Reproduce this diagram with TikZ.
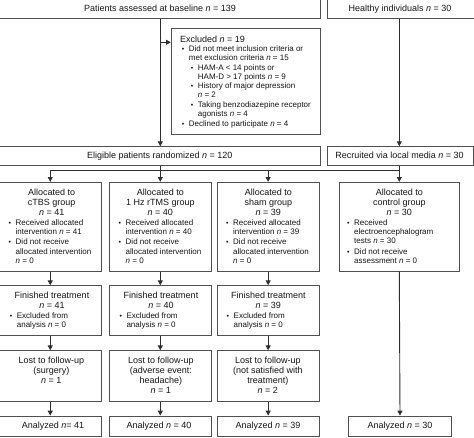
\documentclass[tikz,border=0pt]{standalone}
\usepackage{fontspec}
\setmainfont{Liberation Sans}
\usetikzlibrary{arrows.meta}
\definecolor{boxc}{HTML}{505050}
\definecolor{linec}{HTML}{2E2E2E}
\definecolor{txtc}{HTML}{141414}
\newcommand{\nn}{\textit{n}}
\newcommand{\bulg}{\makebox[7pt][l]{\fontsize{7}{7}\selectfont\textbullet}}
\newcommand{\bitem}[2][0pt]{\par\leftskip=#1\relax\hangindent=7pt\hangafter=1\noindent\bulg#2\par}
\newcommand{\blk}[1]{\vtop{\hsize=160pt\parindent=0pt\parskip=0pt\leftskip=0pt\rightskip=0pt plus 1fil\parfillskip=0pt plus 1fil\relax #1\par}}
\newcommand{\cblk}[1]{\vtop{\hsize=140pt\centering #1\par}}
\begin{document}
\begin{tikzpicture}[x=1pt,y=-1pt,
  box/.style={draw=boxc, line width=1pt, inner sep=0pt},
  txt/.style={inner sep=0pt, text=txtc},
  big/.style={font=\fontsize{9}{9.7}\selectfont},
  lbig/.style={font=\fontsize{9}{10}\selectfont},
  small/.style={font=\fontsize{8}{9.4}\selectfont},
  ln/.style={draw=linec, line width=0.9pt},
  arr/.style={draw=linec, line width=0.9pt, -{Triangle[length=4.8pt,width=5pt]}}]
\useasboundingbox (0,0) rectangle (474,437);
\clip (0,0) rectangle (474,437);
% boxes
\node[box, minimum width=322.5pt, minimum height=20.3pt] (top) at (159.25,8.15) {};
\node[box, minimum width=148.5pt, minimum height=20.3pt] (heal) at (401.75,8.15) {};
\node[box, minimum width=149.4pt, minimum height=105.6pt] (excl) at (246,81.5) {};
\node[box, minimum width=322.5pt, minimum height=18.3pt] (elig) at (159.25,155.85) {};
\node[box, minimum width=146.3pt, minimum height=18.3pt] (recr) at (400.15,155.85) {};
\node[box, minimum width=102.5pt, minimum height=89.4pt] (g1) at (50.25,227) {};
\node[box, minimum width=102pt, minimum height=89.4pt] (g2) at (160.3,227) {};
\node[box, minimum width=102.3pt, minimum height=89.4pt] (g3) at (268.15,227) {};
\node[box, minimum width=120pt, minimum height=88.7pt] (g4) at (399.3,226.65) {};
\node[box, minimum width=102.5pt, minimum height=49.3pt] (f1) at (50.25,310.35) {};
\node[box, minimum width=102pt, minimum height=49.3pt] (f2) at (160.3,310.35) {};
\node[box, minimum width=102.3pt, minimum height=49.3pt] (f3) at (268.15,310.35) {};
\node[box, minimum width=102.5pt, minimum height=50.3pt] (l1) at (50.25,375.85) {};
\node[box, minimum width=102pt, minimum height=50.3pt] (l2) at (160.3,375.85) {};
\node[box, minimum width=102.3pt, minimum height=50.3pt] (l3) at (268.15,375.85) {};
\node[box, minimum width=102.5pt, minimum height=20pt] (a1) at (50.25,426) {};
\node[box, minimum width=102pt, minimum height=20pt] (a2) at (160.3,426) {};
\node[box, minimum width=102.3pt, minimum height=20pt] (a3) at (268.15,426) {};
\node[box, minimum width=102.6pt, minimum height=20pt] (a4) at (400,426) {};
% connectors
\coordinate (br) at (160.3,42.3);
\coordinate (hy) at (0,170.7);
\draw[arr] (top.south -| g2.north) -- (elig.north -| g2.north);
\draw[arr] (br) -- (br -| excl.west);
\draw[arr] (heal.south -| g4.north) -- (recr.north -| g4.north);
\draw[ln] (hy -| g1.north) -- (hy -| g4.north);
\draw[arr] (elig.south -| g2.north) -- (g2.north);
\draw[arr] (hy -| g1.north) -- (g1.north);
\draw[arr] (hy -| g3.north) -- (g3.north);
\draw[arr] (recr.south -| g4.north) -- (g4.north);
\foreach \i in {1,2,3}{
  \draw[arr] (g\i.south) -- (f\i.north);
  \draw[arr] (f\i.south) -- (l\i.north);
  \draw[arr] (l\i.south) -- (a\i.north);
}
\draw[arr] (g4.south) -- (a4.north);
% texts
\node[txt, big, anchor=base] (t-top) at (160,11.8) {Patients assessed at baseline \nn{} = 139};
\node[txt, big, anchor=base] (t-heal) at (400,11.8) {Healthy individuals \nn{} = 30};
\node[txt, anchor=base west] (t-excl) at (180,42.3) {\blk{\fontsize{9}{9}\selectfont Excluded \nn{} = 19\par\vskip-0.7pt
  \fontsize{8}{9}\selectfont\parskip=0.7pt
  \bitem[1.7pt]{Did not meet inclusion criteria or\newline met exclusion criteria \nn{} = 15}
  \bitem[10.7pt]{HAM-A < 14 points or\newline HAM-D > 17 points \nn{} = 9}
  \bitem[10.7pt]{History of major depression\newline \nn{} = 2}
  \bitem[10.7pt]{Taking benzodiazepine receptor\newline agonists \nn{} = 4}
  \bitem[1.7pt]{Declined to participate \nn{} = 4}}};
\node[txt, big, anchor=base] (t-elig) at (159.7,158.4) {Eligible patients randomized \nn{} = 120};
\node[txt, big, anchor=base] (t-recr) at (399.5,158.4) {Recruited via local media \nn{} = 30};
% group boxes
\node[txt, big, anchor=base] (t-g1) at (51.7,195.8) {\cblk{Allocated to\\cTBS group\\\nn{} = 41}};
\node[txt, big, anchor=base] (t-g2) at (160.3,195.8) {\cblk{Allocated to\\1 Hz rTMS group\\\nn{} = 40}};
\node[txt, big, anchor=base] (t-g3) at (268.3,195.8) {\cblk{Allocated to\\sham group\\\nn{} = 39}};
\node[txt, big, anchor=base] (t-g4) at (399.3,195.8) {\cblk{Allocated to\\control group\\\nn{} = 30}};
\node[txt, small, anchor=base west] (b-g1) at (8.5,225) {\blk{\parskip=0.8pt\bitem{Received allocated\newline intervention \nn{} = 41}\bitem{Did not receive\newline allocated intervention\newline \nn{} = 0}}};
\node[txt, small, anchor=base west] (b-g2) at (118.5,225) {\blk{\parskip=0.8pt\bitem{Received allocated\newline intervention \nn{} = 40}\bitem{Did not receive\newline allocated intervention\newline \nn{} = 0}}};
\node[txt, small, anchor=base west] (b-g3) at (226,225) {\blk{\parskip=0.8pt\bitem{Received allocated\newline intervention \nn{} = 39}\bitem{Did not receive\newline allocated intervention\newline \nn{} = 0}}};
\node[txt, small, anchor=base west] (b-g4) at (347,225) {\blk{\parskip=0.8pt\bitem{Received\newline electroencephalogram\newline tests \nn{} = 30}\bitem{Did not receive\newline assessment \nn{} = 0}}};
% finished
\node[txt, lbig, anchor=base] (t-f1) at (52,298.3) {\cblk{Finished treatment\\\nn{} = 41}};
\node[txt, lbig, anchor=base] (t-f2) at (161,298.3) {\cblk{Finished treatment\\\nn{} = 40}};
\node[txt, lbig, anchor=base] (t-f3) at (268.3,298.3) {\cblk{Finished treatment\\\nn{} = 39}};
\node[txt, font=\fontsize{8}{9}\selectfont, anchor=base west] (b-f1) at (9.7,318.3) {\blk{\bitem{Excluded from\newline analysis \nn{} = 0}}};
\node[txt, font=\fontsize{8}{9}\selectfont, anchor=base west] (b-f2) at (119.3,318.3) {\blk{\bitem{Excluded from\newline analysis \nn{} = 0}}};
\node[txt, font=\fontsize{8}{9}\selectfont, anchor=base west] (b-f3) at (226.5,318.3) {\blk{\bitem{Excluded from\newline analysis \nn{} = 0}}};
% lost
\node[txt, lbig, anchor=base] (t-l1) at (51.3,363.6) {\cblk{Lost to follow-up\\(surgery)\\\nn{} = 1}};
\node[txt, lbig, anchor=base] (t-l2) at (160.8,363.6) {\cblk{Lost to follow-up\\(adverse event:\\headache)\\\nn{} = 1}};
\node[txt, lbig, anchor=base] (t-l3) at (267.8,363.6) {\cblk{Lost to follow-up\\(not satisfied with\\treatment)\\\nn{} = 2}};
% analyzed
\node[txt, big, anchor=base] (t-a1) at (53,428.6) {Analyzed \nn{}= 41};
\node[txt, big, anchor=base] (t-a2) at (159,428.6) {Analyzed \nn{} = 40};
\node[txt, big, anchor=base] (t-a3) at (268,428.6) {Analyzed \nn{} = 39};
\node[txt, big, anchor=base] (t-a4) at (400,428.6) {Analyzed \nn{} = 30};
\end{tikzpicture}
\end{document}
